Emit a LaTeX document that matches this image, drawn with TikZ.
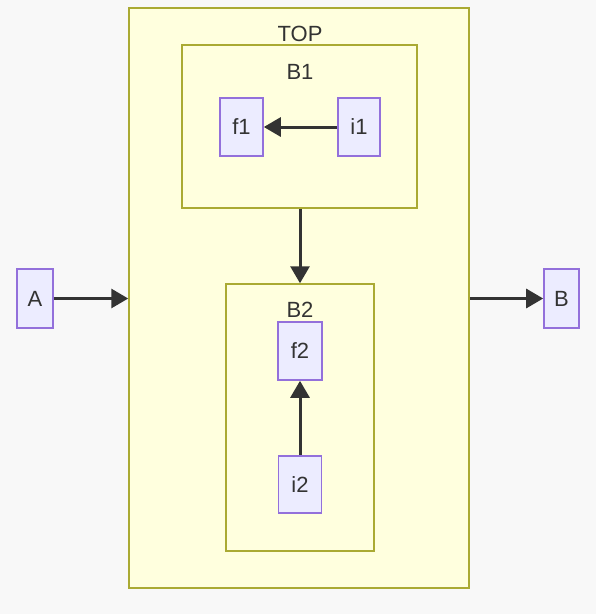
\documentclass[tikz,border=0pt]{standalone}
\usepackage{fontspec}
\setmainfont{Liberation Sans}
\usetikzlibrary{arrows.meta}
\definecolor{bg}{HTML}{F8F8F8}
\definecolor{nodefill}{HTML}{ECECFF}
\definecolor{nodeline}{HTML}{9370DB}
\definecolor{clfill}{HTML}{FFFFDE}
\definecolor{clline}{HTML}{AAAA33}
\definecolor{edge}{HTML}{333333}
\definecolor{txt}{HTML}{333333}
\begin{document}
\begin{tikzpicture}[x=1pt,y=-1pt,
  box/.style={draw=nodeline,fill=nodefill,line width=1.6pt,inner sep=0pt,font=\fontsize{22}{24}\selectfont,text=txt},
  cluster/.style={draw=clline,fill=clfill,line width=1.5pt,inner sep=0pt},
  lbl/.style={font=\fontsize{22}{24}\selectfont,text=txt,inner sep=0pt},
  conn/.style={draw=edge,line width=3pt,-{Triangle[length=17pt,width=19pt]}}]
\useasboundingbox[fill=bg] (0,0) rectangle (596,614);
\node[cluster,minimum width=340pt,minimum height=580pt] (TOP) at (299,298) {};
\node[lbl] (TOPl) at (300,34) {TOP};
\node[cluster,minimum width=235pt,minimum height=163pt] (B1) at (299.5,126.5) {};
\node[lbl] (B1l) at (300,72) {B1};
\node[cluster,minimum width=148pt,minimum height=267pt] (B2) at (300,417.5) {};
\node[lbl] (B2l) at (300,310) {B2};
\node[box,minimum width=43pt,minimum height=58pt] (f1) at (241.5,127) {f1};
\node[box,minimum width=42pt,minimum height=58pt] (i1) at (359,127) {i1};
\node[box,minimum width=36pt,minimum height=59pt] (A) at (35,298.5) {A};
\node[box,minimum width=35pt,minimum height=59pt] (B) at (561.5,298.5) {B};
\node[box,minimum width=44pt,minimum height=58pt] (f2) at (300,351) {f2};
\node[box,minimum width=43pt,minimum height=57pt] (i2) at (300,484.5) {i2};
\draw[conn] (i1) -- (f1);
\draw[conn] (i2) -- (f2);
\draw[conn] (B1.south -| 300,0) -- (B2.north -| 300,0);
\draw[conn] (A.east) -- (A.east -| TOP.west);
\draw[conn] (B.west -| TOP.east) -- (B.west);
\end{tikzpicture}
\end{document}
